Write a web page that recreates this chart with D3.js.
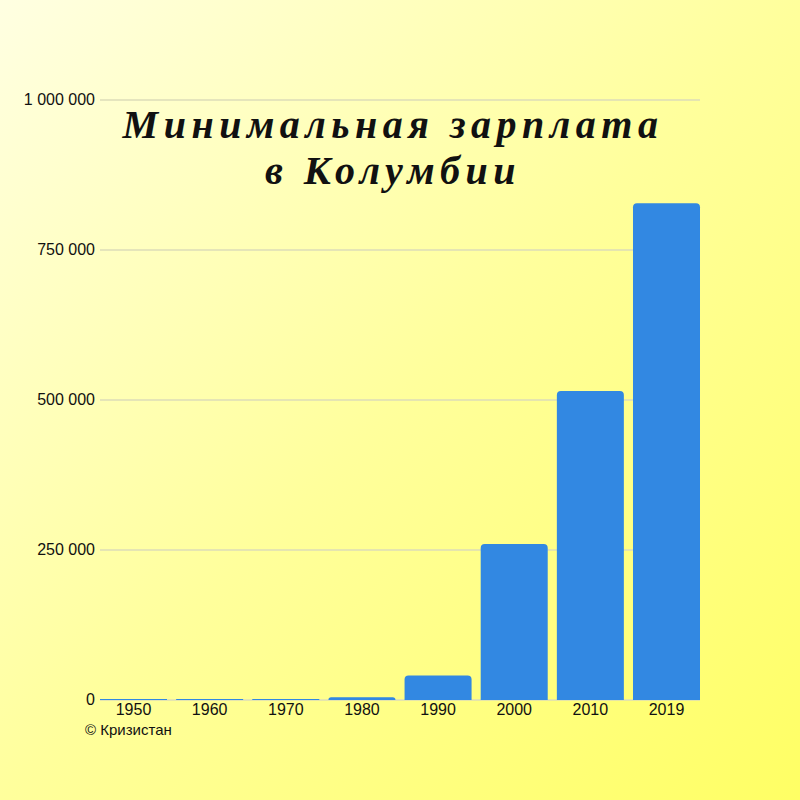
<!DOCTYPE html>
<html><head><meta charset="utf-8">
<script src="https://cdn.jsdelivr.net/npm/d3@7"></script>
<style>body{margin:0;}svg{display:block;}</style>
</head><body>
<script>
const years = ["1950","1960","1970","1980","1990","2000","2010","2019"];
const wages = [60, 300, 900, 4500, 41025, 260100, 515000, 828116];
const yTicks = [0, 250000, 500000, 750000, 1000000];
const titleLines = ["Минимальная зарплата", "в Колумбии"];
const credit = "© Кризистан";

const W = 800, H = 800;
const svg = d3.select("body").append("svg").attr("width", W).attr("height", H);
const defs = svg.append("defs");
const g = defs.append("linearGradient").attr("id","bg").attr("x1","0").attr("y1","0").attr("x2","1").attr("y2","1");
g.append("stop").attr("offset","0%").attr("stop-color","#FFFFE2");
g.append("stop").attr("offset","50%").attr("stop-color","#FFFF9C");
g.append("stop").attr("offset","100%").attr("stop-color","#FFFF64");
svg.append("rect").attr("width",W).attr("height",H).attr("fill","url(#bg)");

const x = d3.scaleBand().domain(years).range([100,700]).paddingInner(0.12).paddingOuter(0);
const y = d3.scaleLinear().domain([0,1000000]).range([700,100]);

// grid
svg.append("g").selectAll("line").data(yTicks).join("line")
  .attr("x1",100).attr("x2",700).attr("y1",d=>y(d)).attr("y2",d=>y(d))
  .attr("stroke","#dcdcb8").attr("stroke-width",1.5);

const fmt = d => d3.format(",")(d).replace(/,/g," ");
svg.append("g").selectAll("text").data(yTicks).join("text")
  .attr("x",95).attr("y",d=>y(d)+5).attr("text-anchor","end")
  .attr("font-family","Liberation Sans, Arial, sans-serif").attr("font-size",16).attr("fill","#111")
  .text(fmt);

// bars with rounded top corners
const r = 4;
svg.append("g").selectAll("path").data(years).join("path")
  .attr("fill","#3288E2")
  .attr("d",(d,i)=>{
    const x0 = x(d), w = x.bandwidth(), y0 = y(wages[i]), y1 = y(0);
    const h = y1 - y0;
    const rr = Math.min(r, h, w/2);
    if (h < 1) return `M${x0},${y1-1}h${w}v1h${-w}Z`;
    return `M${x0},${y1}V${y0+rr}Q${x0},${y0} ${x0+rr},${y0}H${x0+w-rr}Q${x0+w},${y0} ${x0+w},${y0+rr}V${y1}Z`;
  });

// x labels
svg.append("g").selectAll("text").data(years).join("text")
  .attr("x",d=>x(d)+x.bandwidth()/2).attr("y",715).attr("text-anchor","middle")
  .attr("font-family","Liberation Sans, Arial, sans-serif").attr("font-size",16).attr("fill","#111")
  .text(d=>d);

// credit
svg.append("text").attr("x",85).attr("y",735)
  .attr("font-family","Liberation Sans, Arial, sans-serif").attr("font-size",15).attr("fill","#111")
  .text(credit);

// title
svg.append("g").selectAll("text").data(titleLines).join("text")
  .attr("x",393).attr("y",(d,i)=>138+i*46).attr("text-anchor","middle")
  .attr("font-family","Liberation Serif, serif").attr("font-style","italic").attr("font-weight","bold")
  .attr("font-size",40).attr("letter-spacing",5.5).attr("fill","#111")
  .text(d=>d);
</script>
</body></html>
